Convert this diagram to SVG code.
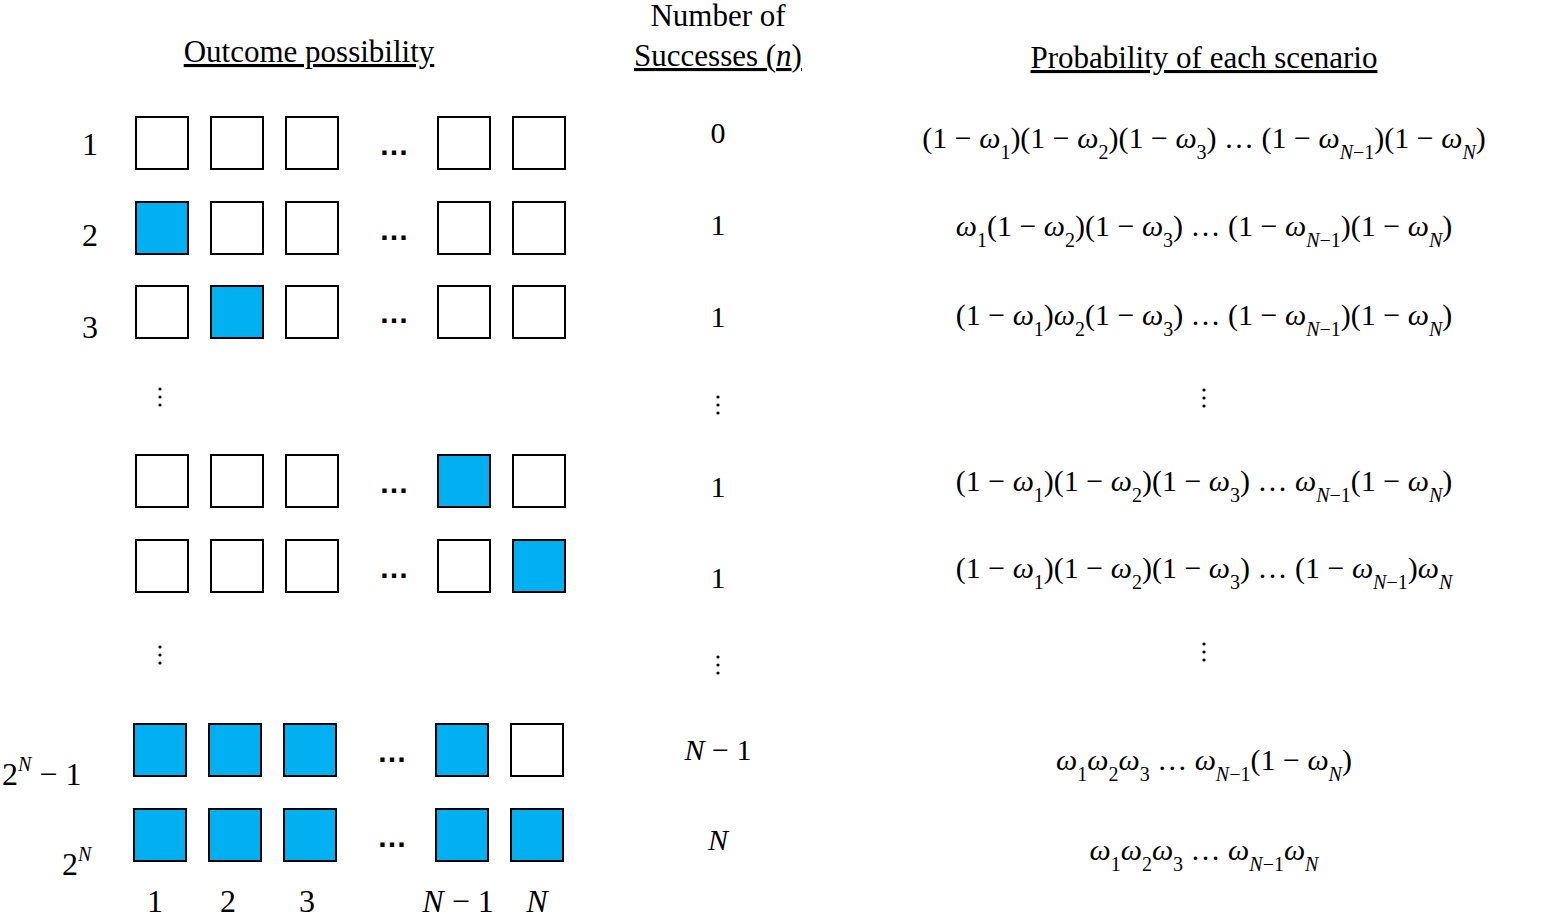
<svg xmlns="http://www.w3.org/2000/svg" width="1549" height="916" viewBox="0 0 1549 916">
<style>
.t{font-family:"Liberation Serif",serif;font-size:32px;fill:#000}
.h{font-family:"Liberation Serif",serif;font-size:31px;fill:#000;text-anchor:middle;text-decoration:underline}
.m{font-family:"Liberation Serif",serif;font-size:30px;fill:#000;text-anchor:middle}
.i{font-style:italic}
.s{font-size:20px}
.e{fill:#fff;stroke:#000;stroke-width:2}
.b{fill:#00B0F0;stroke:#000;stroke-width:2}
.d{font-family:"Liberation Sans",sans-serif;font-size:30px;font-weight:bold;text-anchor:middle}
</style>
<defs>
<g id="vd"><circle cx="0" cy="-8" r="1.6"/><circle cx="0" cy="0" r="1.6"/><circle cx="0" cy="8" r="1.6"/></g>
</defs>
<rect width="1549" height="916" fill="#fff"/>
<text class="h" x="309" y="62">Outcome possibility</text>
<text class="m" x="718" y="26" style="font-size:31px">Number of</text>
<text class="h" x="718" y="66">Successes (<tspan class="i">n</tspan>)</text>
<text class="h" x="1204" y="68">Probability of each scenario</text>

<g id="grid">
<g id="r1"><rect class="e" x="136" y="117" width="52" height="52"/><rect class="e" x="211" y="117" width="52" height="52"/><rect class="e" x="286" y="117" width="52" height="52"/><text class="d" x="394" y="155">…</text><rect class="e" x="438" y="117" width="52" height="52"/><rect class="e" x="513" y="117" width="52" height="52"/></g>
<g id="r2"><rect class="b" x="136" y="202" width="52" height="52"/><rect class="e" x="211" y="202" width="52" height="52"/><rect class="e" x="286" y="202" width="52" height="52"/><text class="d" x="394" y="240">…</text><rect class="e" x="438" y="202" width="52" height="52"/><rect class="e" x="513" y="202" width="52" height="52"/></g>
<g id="r3"><rect class="e" x="136" y="286" width="52" height="52"/><rect class="b" x="211" y="286" width="52" height="52"/><rect class="e" x="286" y="286" width="52" height="52"/><text class="d" x="394" y="323">…</text><rect class="e" x="438" y="286" width="52" height="52"/><rect class="e" x="513" y="286" width="52" height="52"/></g>
<g id="r4"><rect class="e" x="136" y="455" width="52" height="52"/><rect class="e" x="211" y="455" width="52" height="52"/><rect class="e" x="286" y="455" width="52" height="52"/><text class="d" x="394" y="493">…</text><rect class="b" x="438" y="455" width="52" height="52"/><rect class="e" x="513" y="455" width="52" height="52"/></g>
<g id="r5"><rect class="e" x="136" y="540" width="52" height="52"/><rect class="e" x="211" y="540" width="52" height="52"/><rect class="e" x="286" y="540" width="52" height="52"/><text class="d" x="394" y="578">…</text><rect class="e" x="438" y="540" width="52" height="52"/><rect class="b" x="513" y="540" width="52" height="52"/></g>
<g id="r6"><rect class="b" x="134" y="724" width="52" height="52"/><rect class="b" x="209" y="724" width="52" height="52"/><rect class="b" x="284" y="724" width="52" height="52"/><text class="d" x="392" y="762">…</text><rect class="b" x="436" y="724" width="52" height="52"/><rect class="e" x="511" y="724" width="52" height="52"/></g>
<g id="r7"><rect class="b" x="134" y="809" width="52" height="52"/><rect class="b" x="209" y="809" width="52" height="52"/><rect class="b" x="284" y="809" width="52" height="52"/><text class="d" x="392" y="847">…</text><rect class="b" x="436" y="809" width="52" height="52"/><rect class="b" x="511" y="809" width="52" height="52"/></g>
</g>

<g class="t">
<text x="82" y="155">1</text><text x="82" y="246">2</text><text x="82" y="338">3</text>
<text x="2" y="785">2<tspan class="i s" dy="-14">N</tspan><tspan dy="14"> − 1</tspan></text>
<text x="62" y="875">2<tspan class="i s" dy="-14">N</tspan></text>
<text x="155" y="912" text-anchor="middle">1</text><text x="228" y="912" text-anchor="middle">2</text><text x="307" y="912" text-anchor="middle">3</text>
<text x="458" y="912" text-anchor="middle"><tspan class="i">N</tspan> − 1</text><text x="537" y="912" text-anchor="middle" class="i">N</text>
</g>
<use href="#vd" x="160" y="397"/><use href="#vd" x="160" y="655"/>
<use href="#vd" x="718" y="405"/><use href="#vd" x="718" y="665"/>
<use href="#vd" x="1204" y="398"/><use href="#vd" x="1204" y="652"/>

<g class="m">
<text x="718" y="143">0</text><text x="718" y="235">1</text><text x="718" y="327">1</text>
<text x="718" y="497">1</text><text x="718" y="588">1</text>
<text x="718" y="760"><tspan class="i">N</tspan> − 1</text><text x="718" y="850" class="i">N</text>
</g>

<g class="m">
<text x="1204" y="148">(1 − <tspan class="i">ω</tspan><tspan class="s" baseline-shift="sub">1</tspan>)(1 − <tspan class="i">ω</tspan><tspan class="s" baseline-shift="sub">2</tspan>)(1 − <tspan class="i">ω</tspan><tspan class="s" baseline-shift="sub">3</tspan>) … (1 − <tspan class="i">ω</tspan><tspan class="s" baseline-shift="sub"><tspan class="i">N</tspan>−1</tspan>)(1 − <tspan class="i">ω</tspan><tspan class="s i" baseline-shift="sub">N</tspan>)</text>
<text x="1204" y="236"><tspan class="i">ω</tspan><tspan class="s" baseline-shift="sub">1</tspan>(1 − <tspan class="i">ω</tspan><tspan class="s" baseline-shift="sub">2</tspan>)(1 − <tspan class="i">ω</tspan><tspan class="s" baseline-shift="sub">3</tspan>) … (1 − <tspan class="i">ω</tspan><tspan class="s" baseline-shift="sub"><tspan class="i">N</tspan>−1</tspan>)(1 − <tspan class="i">ω</tspan><tspan class="s i" baseline-shift="sub">N</tspan>)</text>
<text x="1204" y="325">(1 − <tspan class="i">ω</tspan><tspan class="s" baseline-shift="sub">1</tspan>)<tspan class="i">ω</tspan><tspan class="s" baseline-shift="sub">2</tspan>(1 − <tspan class="i">ω</tspan><tspan class="s" baseline-shift="sub">3</tspan>) … (1 − <tspan class="i">ω</tspan><tspan class="s" baseline-shift="sub"><tspan class="i">N</tspan>−1</tspan>)(1 − <tspan class="i">ω</tspan><tspan class="s i" baseline-shift="sub">N</tspan>)</text>
<text x="1204" y="491">(1 − <tspan class="i">ω</tspan><tspan class="s" baseline-shift="sub">1</tspan>)(1 − <tspan class="i">ω</tspan><tspan class="s" baseline-shift="sub">2</tspan>)(1 − <tspan class="i">ω</tspan><tspan class="s" baseline-shift="sub">3</tspan>) … <tspan class="i">ω</tspan><tspan class="s" baseline-shift="sub"><tspan class="i">N</tspan>−1</tspan>(1 − <tspan class="i">ω</tspan><tspan class="s i" baseline-shift="sub">N</tspan>)</text>
<text x="1204" y="578">(1 − <tspan class="i">ω</tspan><tspan class="s" baseline-shift="sub">1</tspan>)(1 − <tspan class="i">ω</tspan><tspan class="s" baseline-shift="sub">2</tspan>)(1 − <tspan class="i">ω</tspan><tspan class="s" baseline-shift="sub">3</tspan>) … (1 − <tspan class="i">ω</tspan><tspan class="s" baseline-shift="sub"><tspan class="i">N</tspan>−1</tspan>)<tspan class="i">ω</tspan><tspan class="s i" baseline-shift="sub">N</tspan></text>
<text x="1204" y="770"><tspan class="i">ω</tspan><tspan class="s" baseline-shift="sub">1</tspan><tspan class="i">ω</tspan><tspan class="s" baseline-shift="sub">2</tspan><tspan class="i">ω</tspan><tspan class="s" baseline-shift="sub">3</tspan> … <tspan class="i">ω</tspan><tspan class="s" baseline-shift="sub"><tspan class="i">N</tspan>−1</tspan>(1 − <tspan class="i">ω</tspan><tspan class="s i" baseline-shift="sub">N</tspan>)</text>
<text x="1204" y="860"><tspan class="i">ω</tspan><tspan class="s" baseline-shift="sub">1</tspan><tspan class="i">ω</tspan><tspan class="s" baseline-shift="sub">2</tspan><tspan class="i">ω</tspan><tspan class="s" baseline-shift="sub">3</tspan> … <tspan class="i">ω</tspan><tspan class="s" baseline-shift="sub"><tspan class="i">N</tspan>−1</tspan><tspan class="i">ω</tspan><tspan class="s i" baseline-shift="sub">N</tspan></text>
</g>
</svg>
